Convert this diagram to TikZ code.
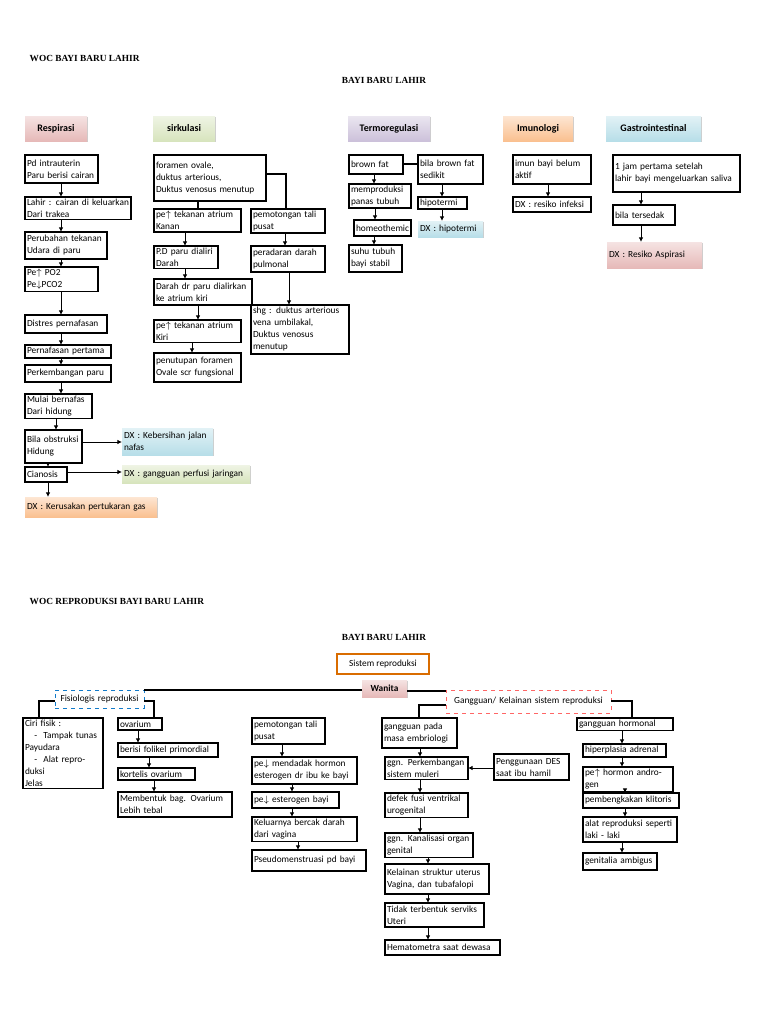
\documentclass[tikz,border=0pt]{standalone}
\usepackage{fontspec}
\setmainfont{Carlito}
\newfontfamily\ttl{Liberation Serif}
\usetikzlibrary{arrows.meta,shadows}
\definecolor{hred}{HTML}{E6B9B8}
\definecolor{hgreen}{HTML}{D7E4BD}
\definecolor{hpurple}{HTML}{CCC1DA}
\definecolor{horange}{HTML}{FAC090}
\definecolor{hblue}{HTML}{B7DEE8}
\tikzset{
 box/.style={draw,line width=0.8pt,rectangle,inner sep=1.5pt,outer sep=0pt,align=left,font=\fontsize{7}{9}\selectfont},
 dx/.style={box,draw=none,drop shadow={shadow xshift=1pt,shadow yshift=-1pt,opacity=0.4}},
 hd/.style={dx,align=center,font=\fontsize{7.5}{9}\selectfont\bfseries},
 red/.style={top color=hred!40,bottom color=hred},
 green/.style={top color=hgreen!40,bottom color=hgreen},
 purple/.style={top color=hpurple!40,bottom color=hpurple},
 orange/.style={top color=horange!40,bottom color=horange},
 blue/.style={top color=hblue!40,bottom color=hblue},
 arr/.style={line width=0.7pt,-{Latex[length=3.5pt,width=3.5pt]}},
 ln/.style={line width=0.8pt},
 ttlf/.style={font=\ttl\fontsize{7}{8}\selectfont\bfseries}
}
\newcommand\bx[7][box]{\node[#1,text width=#5*0.75pt-3pt,minimum height=#6*0.75pt,anchor=north west] (#2) at (#3,#4) {#7};}
\newcommand\va[3]{\draw[arr] (#1.south -| #3,0) -- (#2.north -| #3,0);}
\begin{document}
\begin{tikzpicture}[x=0.75pt,y=-0.75pt]
\useasboundingbox (0,0) rectangle (768,1024);
\node[ttlf,anchor=west] (t1) at (25,58) {WOC BAYI BARU LAHIR};
\node[ttlf] (t2) at (384,80) {BAYI BARU LAHIR};
% headers
\bx[hd,red]{h1}{25}{116}{62}{25}{Respirasi}
\bx[hd,green]{h2}{153}{116}{62}{25}{sirkulasi}
\bx[hd,purple]{h3}{348}{116}{82}{25}{Termoregulasi}
\bx[hd,orange]{h4}{503}{116}{70}{25}{Imunologi}
\bx[hd,blue]{h5}{606}{116}{95}{25}{Gastrointestinal}
% Respirasi
\bx{r1}{25}{155}{73}{28}{Pd intrauterin\\Paru berisi cairan}
\bx{r2}{25}{197}{106}{21}{Lahir : cairan di keluarkan\\Dari trakea}
\bx{r3}{25}{232}{82}{27}{Perubahan tekanan\\Udara di paru}
\bx{r4}{25}{267}{73}{21}{Pe$\uparrow$ PO2 Pe$\downarrow$PCO2}
\bx{r5}{25}{315}{82}{18}{Distres pernafasan}
\bx{r6}{25}{345}{86}{13}{Pernafasan pertama}
\bx{r7}{25}{365}{86}{17}{Perkembangan paru}
\bx{r8}{25}{394}{67}{24}{Mulai bernafas\\Dari hidung}
\bx{r9}{25}{430}{57}{33}{Bila obstruksi\\Hidung}
\bx{r10}{25}{467}{42}{15}{Cianosis}
\bx[dx,orange]{r11}{25}{497}{132}{20}{DX : Kerusakan pertukaran gas}
\bx[dx,blue]{r12}{122}{428}{91}{27}{DX : Kebersihan jalan\\nafas}
\bx[dx,green]{r13}{122}{465}{128}{18}{DX : gangguan perfusi jaringan}
\va{r1}{r2}{61}\va{r2}{r3}{61}\va{r3}{r4}{61}\va{r4}{r5}{61}\va{r5}{r6}{61}
\va{r6}{r7}{61}\va{r7}{r8}{61}\va{r8}{r9}{56}\va{r9}{r10}{48}\va{r10}{r11}{48}
\draw[arr] (r9.east |- 0,442) -- (r12.west |- 0,442);
\draw[arr] (r10.east |- 0,472) -- (r13.west |- 0,472);
% Sirkulasi
\bx{s1}{154}{155}{112}{46}{foramen ovale,\\duktus arterious,\\Duktus venosus menutup}
\bx{s2}{154}{209}{87}{23}{pe$\uparrow$ tekanan atrium\\Kanan}
\bx{s3}{251}{209}{74}{23}{pemotongan tali\\pusat}
\bx{s4}{154}{246}{64}{21}{P.D paru dialiri\\Darah}
\bx{s5}{251}{246}{74}{26}{peradaran darah\\pulmonal}
\bx{s6}{154}{279}{98}{26}{Darah dr paru dialirkan\\ke atrium kiri}
\bx{s7}{251}{305}{98}{49}{shg : duktus arterious\\vena umbilakal,\\Duktus venosus\\menutup}
\bx{s8}{154}{320}{87}{20}{pe$\uparrow$ tekanan atrium\\Kiri}
\bx{s9}{154}{353}{87}{29}{penutupan foramen\\Ovale scr fungsional}
\draw[ln] (s1.south -| 198,0) -- (s2.north -| 198,0);
\draw[ln] (s1.east |- 0,174) -| (s3.north -| 286,0);
\va{s2}{s4}{185}\va{s4}{s6}{185}\va{s6}{s8}{198}\va{s8}{s9}{192}
\va{s3}{s5}{285}\va{s5}{s7}{289}
% Termoregulasi
\bx{m1}{349}{155}{54}{19}{brown fat}
\bx{m2}{418}{155}{65}{29}{bila brown fat\\sedikit}
\bx{m3}{349}{184}{62}{24}{memproduksi\\panas tubuh}
\bx{m4}{354}{220}{57}{16}{homeothemic}
\bx{m5}{349}{245}{53}{27}{suhu tubuh\\bayi stabil}
\bx{m6}{418}{197}{49}{11}{hipotermi}
\bx[dx,blue]{m7}{418}{221}{65}{16}{DX : hipotermi}
\draw[ln] (m1.east |- 0,164) -- (m2.west |- 0,164);
\va{m1}{m3}{374}\va{m3}{m4}{375}\va{m4}{m5}{374}
\va{m2}{m6}{442}\va{m6}{m7}{442}
% Imunologi
\bx{i1}{513}{155}{78}{29}{imun bayi belum\\aktif}
\bx{i2}{513}{197}{78}{15}{DX : resiko infeksi}
\va{i1}{i2}{548}
% Gastro
\bx{g1}{613}{155}{127}{37}{1 jam pertama setelah\\lahir bayi mengeluarkan saliva}
\bx{g2}{613}{205}{62}{20}{bila tersedak}
\bx[dx,red]{g3}{607}{242}{95}{26}{DX : Resiko Aspirasi}
\va{g1}{g2}{641}\va{g2}{g3}{641}
% bottom
\node[ttlf,anchor=west] (t3) at (25,601) {WOC REPRODUKSI BAYI BARU LAHIR};
\node[ttlf] (t4) at (384,637) {BAYI BARU LAHIR};
\node[box,draw=orange!85!black,line width=1.6pt,minimum width=92*0.75pt,minimum height=20*0.75pt,align=center,anchor=north west] (sr) at (337,654) {Sistem reproduksi};
\bx[hd,red,font=\fontsize{7}{9}\selectfont\bfseries]{w}{362}{680}{45}{17}{Wanita}
\bx[box,dashed,draw=cyan!60!blue,line width=0.6pt,align=center]{fis}{55}{690}{89}{18}{Fisiologis reproduksi}
\bx[box,dashed,draw=red!60,line width=0.6pt,align=center]{gg}{446}{690}{165}{23}{Gangguan/ Kelainan sistem reproduksi}
\draw[ln] (w.west |- 0,690) -- (fis.east |- 0,690);
\draw[ln] (w.east |- 0,691) -- (gg.west |- 0,691);
\bx{c1}{23}{718}{80}{66}{Ciri fisik :\\\ \ \ - \ Tampak tunas\\Payudara\\\ \ \ - \ Alat reproduksi\\Jelas}
\bx{o1}{118}{718}{44}{12}{ovarium}
\bx{o2}{118}{743}{100}{14}{berisi folikel primordial}
\bx{o3}{118}{768}{77}{12}{kortelis ovarium}
\bx{o4}{118}{792}{114}{25}{Membentuk bag. Ovarium\\Lebih tebal}
\draw[ln] (fis.west |- 0,701) -| (c1.north -| 39,0);
\draw[ln] (fis.east |- 0,701) -| (o1.north -| 154,0);
\va{o1}{o2}{138}\va{o2}{o3}{149}\va{o3}{o4}{154}
\bx{p1}{252}{718}{73}{26}{pemotongan tali\\pusat}
\bx{p2}{252}{757}{105}{27}{pe$\downarrow$ mendadak hormon\\esterogen dr ibu ke bayi}
\bx{p3}{252}{792}{87}{16}{pe$\downarrow$ esterogen bayi}
\bx{p4}{252}{817}{105}{24}{Keluarnya bercak darah\\dari vagina}
\bx{p5}{252}{850}{114}{21}{Pseudomenstruasi pd bayi}
\va{p1}{p2}{282}\va{p2}{p3}{292}\va{p3}{p4}{292}\va{p4}{p5}{298}
\bx{k1}{382}{718}{75}{30}{gangguan pada\\masa embriologi}
\bx{k2}{385}{757}{83}{22}{ggn. Perkembangan\\sistem muleri}
\bx{k3}{494}{754}{75}{26}{Penggunaan DES\\saat ibu hamil}
\bx{k4}{385}{793}{83}{24}{defek fusi ventrikal\\urogenital}
\bx{k5}{385}{833}{88}{22}{ggn. Kanalisasi organ\\genital}
\bx{k6}{385}{864}{104}{30}{Kelainan struktur uterus\\Vagina, dan tubafalopi}
\bx{k7}{385}{903}{99}{24}{Tidak terbentuk serviks\\Uteri}
\bx{k8}{385}{940}{115}{15}{Hematometra saat dewasa}
\draw[ln] (gg.west |- 0,705) -| (k1.north -| 419,0);
\va{k1}{k2}{420}\va{k2}{k4}{420}\va{k4}{k5}{420}\va{k5}{k6}{428}\va{k6}{k7}{428}\va{k7}{k8}{428}
\draw[arr] (k3.west |- 0,768) -- (k2.east |- 0,768);
\bx{h1x}{577}{718}{96}{12}{gangguan hormonal}
\bx{h2x}{583}{744}{83}{13}{hiperplasia adrenal}
\bx{h3x}{583}{767}{90}{17}{pe$\uparrow$ hormon androgen}
\bx{h4x}{583}{793}{96}{15}{pembengkakan klitoris}
\bx{h5x}{583}{817}{94}{25}{alat reproduksi seperti\\laki - laki}
\bx{h6x}{583}{853}{74}{17}{genitalia ambigus}
\draw[ln] (gg.east |- 0,701) -| (h1x.north -| 632,0);
\va{h1x}{h2x}{622}\va{h2x}{h3x}{622}\va{h3x}{h4x}{625}\va{h4x}{h5x}{625}\va{h5x}{h6x}{622}
\end{tikzpicture}
\end{document}
